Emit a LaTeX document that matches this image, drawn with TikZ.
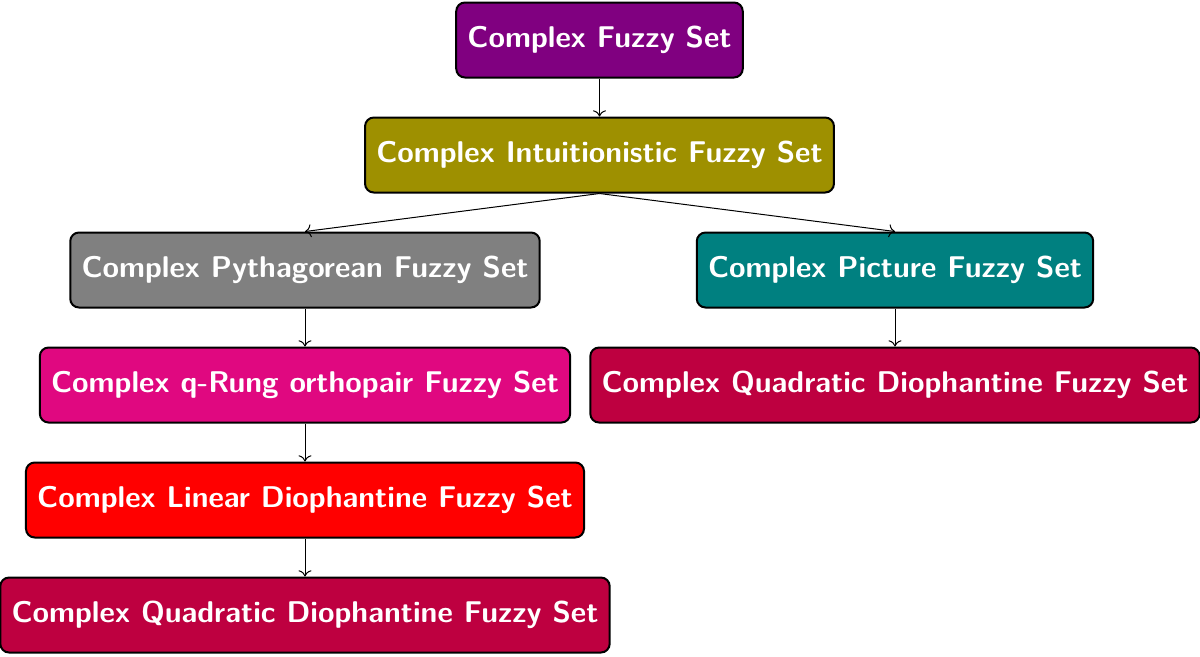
\documentclass[tikz,border=0pt]{standalone}
\usetikzlibrary{arrows.meta, positioning}
\definecolor{cfsviolet}{RGB}{128,0,128}
\definecolor{cifsolive}{RGB}{158,144,0}
\definecolor{cpyfsgray}{RGB}{128,128,128}
\definecolor{cpicteal}{RGB}{0,128,128}
\definecolor{cqropink}{RGB}{224,8,128}
\definecolor{clindred}{RGB}{255,0,0}
\definecolor{cquadred}{RGB}{190,0,64}

\begin{document}
\begin{tikzpicture}[x=0.4pt, y=-0.4pt,
    fuzzybox/.style={draw=black, thick, rounded corners=3.5pt, text=white,
      font=\sffamily\bfseries\large, minimum height=30pt, inner xsep=4.5pt},
    link/.style={->, thin}]

    % frame of the picture
    \useasboundingbox (0,0) rectangle (1200,656);

    % root and second level
    \node[fuzzybox, fill=cfsviolet] (cfs) at (599.5,40) {Complex Fuzzy Set};
    \node[fuzzybox, fill=cifsolive] (cifs) at (599.5,155) {Complex Intuitionistic Fuzzy Set};

    % left branch
    \node[fuzzybox, fill=cpyfsgray] (cpyfs) at (305,270) {Complex Pythagorean Fuzzy Set};
    \node[fuzzybox, fill=cqropink] (cqrofs) at (305,385) {Complex q-Rung orthopair Fuzzy Set};
    \node[fuzzybox, fill=clindred] (cldfs) at (305,500) {Complex Linear Diophantine Fuzzy Set};
    \node[fuzzybox, fill=cquadred] (cqdfsl) at (305,615) {Complex Quadratic Diophantine Fuzzy Set};

    % right branch
    \node[fuzzybox, fill=cpicteal] (cpfs) at (895,270) {Complex Picture Fuzzy Set};
    \node[fuzzybox, fill=cquadred] (cqdfsr) at (895,385) {Complex Quadratic Diophantine Fuzzy Set};

    % links
    \draw[link] (cfs.south) -- (cifs.north);
    \draw[link] (cifs.south) -- (cpyfs.north);
    \draw[link] (cifs.south) -- (cpfs.north);
    \draw[link] (cpyfs.south) -- (cqrofs.north);
    \draw[link] (cqrofs.south) -- (cldfs.north);
    \draw[link] (cldfs.south) -- (cqdfsl.north);
    \draw[link] (cpfs.south) -- (cqdfsr.north);

\end{tikzpicture}
\end{document}
